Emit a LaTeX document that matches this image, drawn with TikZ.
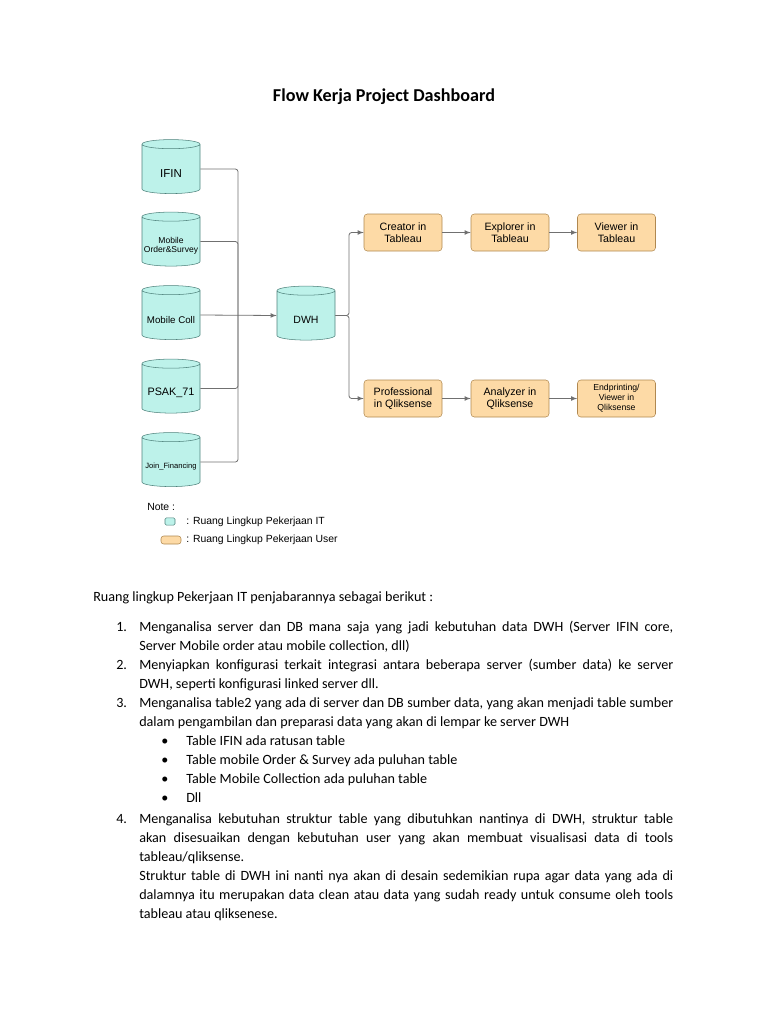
\documentclass[tikz,border=0pt]{standalone}
\usepackage{fontspec}
\setmainfont{Carlito}
\newfontfamily\arialfont{Liberation Sans}
\usetikzlibrary{shapes.geometric,arrows,positioning}

\definecolor{itfill}{HTML}{BDF2EA}
\definecolor{itdraw}{HTML}{4F827C}
\definecolor{userfill}{HTML}{FDDAA6}
\definecolor{userdraw}{HTML}{B08850}
\definecolor{linegray}{HTML}{707070}

\newcommand{\afs}[2]{\arialfont\fontsize{#1}{#2}\selectfont}
\newcommand{\dbfill}{\rule{38pt}{0pt}}

\begin{document}
\begin{tikzpicture}
	[
		x=0.75pt, y=-0.75pt,
		dbnode/.style={cylinder, shape border rotate=90, aspect=0.18, draw=itdraw, fill=itfill, thin, minimum width=43.5pt, minimum height=40.5pt, inner sep=0pt, font=\afs{8.6}{9}},
		dblabel/.style={inner sep=0pt, align=center, yshift=-3.4pt, font=\afs{8}{9}},
		usernode/.style={rectangle, rounded corners=2.5pt, draw=userdraw, fill=userfill, thin, minimum width=58.5pt, minimum height=27.75pt, inner sep=1pt, align=center, font=\afs{8}{9}},
		legendbox/.style={rectangle, draw=itdraw, fill=itfill, thin, inner sep=0pt},
		notetext/.style={anchor=west, inner sep=0pt, font=\afs{7.8}{9}},
		conn/.style={draw=linegray, line width=0.6pt, rounded corners=2pt},
		bodytext/.style={anchor=base west, inner sep=0pt, text width=400.5pt, align=justify, font=\fontsize{10.6}{14.25}\selectfont},
		numtext/.style={anchor=base west, inner sep=0pt, font=\fontsize{10.6}{14.25}\selectfont},
	]

	\useasboundingbox (0,0) rectangle (768,1024);

	\node[anchor=base, inner sep=0pt, font=\bfseries\fontsize{13.6}{16}\selectfont] (title) at (384,102) {Flow Kerja Project Dashboard};

	% sumber data
	\node[dbnode, label={[dblabel, font=\afs{8.6}{9}]center:IFIN}] (ifin) at (171,169) {\dbfill};
	\node[dbnode, label={[dblabel, font=\afs{6.4}{6.9}]center:Mobile\\Order\&Survey}] (mobileorder) at (171,241.5) {\dbfill};
	\node[dbnode, label={[dblabel, font=\afs{7.3}{8}]center:Mobile Coll}] (mobilecoll) at (171,315) {\dbfill};
	\node[dbnode, label={[dblabel, font=\afs{8.1}{9}]center:PSAK\_71}] (psak) at (171,388.5) {\dbfill};
	\node[dbnode, label={[dblabel, font=\afs{5.7}{6.5}]center:Join\_Financing}] (joinfin) at (171,462) {\dbfill};

	\node[dbnode, label={[dblabel, font=\afs{7.9}{9}]center:DWH}] (dwh) at (306,315.5) {\dbfill};

	% tableau
	\node[usernode] (creator) at (403,232.5) {Creator in\\Tableau};
	\node[usernode] (explorer) at (510,232.5) {Explorer in\\Tableau};
	\node[usernode] (viewer) at (616.5,232.5) {Viewer in\\Tableau};

	% qliksense
	\node[usernode] (professional) at (403,398.5) {Professional\\in Qliksense};
	\node[usernode] (analyzer) at (510,398.5) {Analyzer in\\Qliksense};
	\node[usernode, font=\afs{6.5}{7.5}] (endprinting) at (616.5,398.5) {Endprinting/\\Viewer in\\Qliksense};

	\coordinate (bus) at (238,315);
	\coordinate (split) at (349,315.5);

	\draw[conn] (ifin.east) -| (bus);
	\draw[conn] (mobileorder.east) -| (bus);
	\draw[conn] (psak.east) -| (bus);
	\draw[conn] (joinfin.east) -| (bus);
	\draw[conn,-latex] (mobilecoll.east) -- (dwh.west);

	\draw[conn,-latex] (dwh.east) -- (split) |- (creator.west);
	\draw[conn,-latex] (dwh.east) -- (split) |- (professional.west);
	\draw[conn,-latex] (creator) -- (explorer);
	\draw[conn,-latex] (explorer) -- (viewer);
	\draw[conn,-latex] (professional) -- (analyzer);
	\draw[conn,-latex] (analyzer) -- (endprinting);

	% keterangan
	\node[notetext] (note) at (147,507) {Note :};
	\node[legendbox, rounded corners=1pt, minimum width=7.5pt, minimum height=5.5pt] (legendit) at (170,521.5) {};
	\node[notetext] (legendittext) at (186,521.5) {: Ruang Lingkup Pekerjaan IT};
	\node[legendbox, draw=userdraw, fill=userfill, rounded corners=2pt, minimum width=15pt, minimum height=6pt] (legenduser) at (171,540) {};
	\node[notetext] (legendusertext) at (186,540) {: Ruang Lingkup Pekerjaan User};

	% penjabaran
	\node[numtext] (heading) at (93,601) {Ruang lingkup Pekerjaan IT penjabarannya sebagai berikut :};

	\node[numtext] (num1) at (116,631) {1.};
	\node[bodytext] (item1) at (139,631) {Menganalisa server dan DB mana saja yang jadi kebutuhan data DWH (Server IFIN core,\linebreak Server Mobile order atau mobile collection, dll)};
	\node[numtext] (num2) at (116,669) {2.};
	\node[bodytext] (item2) at (139,669) {Menyiapkan konfigurasi terkait integrasi antara beberapa server (sumber data) ke server\linebreak DWH, seperti konfigurasi linked server dll.};
	\node[numtext] (num3) at (116,707) {3.};
	\node[bodytext] (item3) at (139,707) {Menganalisa table2 yang ada di server dan DB sumber data, yang akan menjadi table sumber\linebreak dalam pengambilan dan preparasi data yang akan di lempar ke server DWH};

	\node[numtext] (dot1) at (161,745) {\textbullet};
	\node[numtext] (sub1) at (186,745) {Table IFIN ada ratusan table};
	\node[numtext] (dot2) at (161,764) {\textbullet};
	\node[numtext] (sub2) at (186,764) {Table mobile Order \& Survey ada puluhan table};
	\node[numtext] (dot3) at (161,783) {\textbullet};
	\node[numtext] (sub3) at (186,783) {Table Mobile Collection ada puluhan table};
	\node[numtext] (dot4) at (161,802) {\textbullet};
	\node[numtext] (sub4) at (186,802) {Dll};

	\node[numtext] (num4) at (116,823) {4.};
	\node[bodytext] (item4) at (139,823) {Menganalisa kebutuhan struktur table yang dibutuhkan nantinya di DWH, struktur table\linebreak akan disesuaikan dengan kebutuhan user yang akan membuat visualisasi data di tools\linebreak tableau/qliksense.};
	\node[bodytext] (item4b) at (139,880) {Struktur table di DWH ini nanti nya akan di desain sedemikian rupa agar data yang ada di\linebreak dalamnya itu merupakan data clean atau data yang sudah ready untuk consume oleh tools\linebreak tableau atau qliksenese.};

\end{tikzpicture}
\end{document}
